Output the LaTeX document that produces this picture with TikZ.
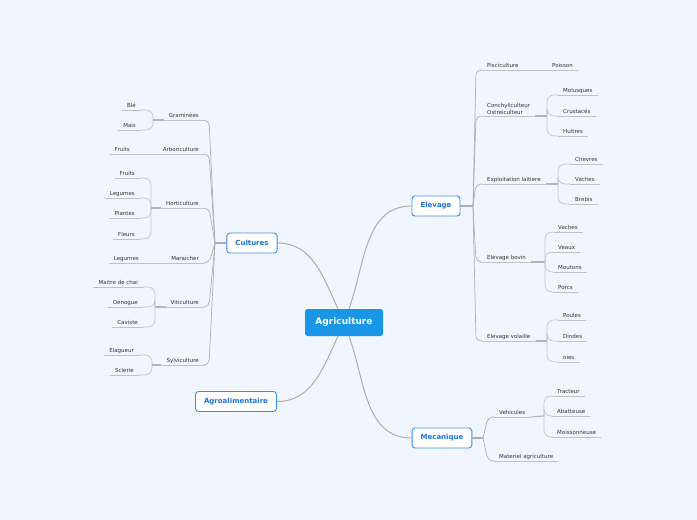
\documentclass[tikz,border=0pt]{standalone}
\usepackage{fontspec}
\setmainfont{DejaVu Sans}
\definecolor{bg}{HTML}{F1F5FD}
\definecolor{agriblue}{HTML}{1A96E6}
\definecolor{topicborder}{HTML}{3A8EEB}
\definecolor{topictext}{HTML}{1A73DA}
\definecolor{subtext}{HTML}{333333}
\definecolor{linegrey}{HTML}{C2C2C2}
\definecolor{maingrey}{HTML}{ADADAD}
\tikzset{
  central/.style={fill=agriblue, text=white, font=\bfseries\fontsize{9}{10}\selectfont, rounded corners=2.5pt, minimum width=78pt, minimum height=27pt, inner sep=0pt},
  topic/.style={draw=topicborder, line width=0.9pt, fill=white, text=topictext, font=\bfseries\fontsize{7}{8}\selectfont, rounded corners=3pt, minimum height=20pt, inner xsep=8.5pt, inner ysep=0pt},
  uline/.style={draw=linegrey, line width=0.6pt},
  sub/.style={font=\fontsize{5.5}{7}\selectfont, text=subtext, inner xsep=5pt, inner ysep=0.9pt, text height=4.2pt, text depth=1.3pt,
    append after command={(\tikzlastnode.south west) edge[uline] (\tikzlastnode.south east)}},
  L/.style={sub, anchor=south east},
  R/.style={sub, anchor=south west},
  mainline/.style={draw=maingrey, line width=1pt},
  stub/.style={draw=maingrey, line width=2pt},
  ext/.style={draw=maingrey!90, line width=1.1pt},
  fan/.style={draw=linegrey!90!black, line width=0.7pt, rounded corners=5pt},
  kid/.style={draw=linegrey, line width=0.6pt, rounded corners=7pt},
}
\begin{document}
\begin{tikzpicture}[x=1pt, y=-1pt]
\useasboundingbox[fill=bg] (0,0) rectangle (697,520);

% main nodes
\node[central] (agri) at (344,322.5) {Agriculture};
\node[topic] (cult) at (252,243) {Cultures};
\node[topic] (agro) at (236,401.5) {Agroalimentaire};
\node[topic] (elev) at (436,206) {Elevage};
\node[topic] (meca) at (442,438) {Mecanique};

\coordinate (aNW) at ([xshift=-6pt]agri.north);
\coordinate (aNE) at ([xshift=5pt]agri.north);
\coordinate (aSW) at ([xshift=-6pt]agri.south);
\coordinate (aSE) at ([xshift=5pt]agri.south);

\draw[mainline] (aNW) .. controls ([shift={(-15,-32)}]aNW) and ([shift={(35,0)}]cult.east) .. (cult.east);
\draw[mainline] (aSW) .. controls ([shift={(-15,32)}]aSW) and ([shift={(35,0)}]agro.east) .. (agro.east);
\draw[mainline] (aNE) .. controls ([shift={(16,-44)}]aNE) and ([shift={(-47,0)}]elev.west) .. (elev.west);
\draw[mainline] (aSE) .. controls ([shift={(16,44)}]aSE) and ([shift={(-47,0)}]meca.west) .. (meca.west);

% ---------- Cultures ----------
\coordinate (jC) at (215,243);
\draw[stub] (cult.west) -- (jC);
\node[L] (gram) at (204,120) {Graminées};
\node[L] (arbo) at (204,154) {Arboriculture};
\node[L] (horti) at (204,208) {Horticulture};
\node[L] (mara) at (204,263) {Maraicher};
\node[L] (viti) at (204,307) {Viticulture};
\node[L] (sylvi) at (204,365) {Sylviculture};
\foreach \n in {gram,arbo,horti,mara,viti,sylvi}
  \draw[fan] (jC) -- ([xshift=5pt]\n.south east) -- (\n.south east);

\node[L] (ble) at (141,110) {Blé};
\node[L] (mais) at (141,130) {Mais};
\coordinate (jGram) at (153,120);
\draw[ext] (gram.south west) -- (jGram);
\foreach \n in {ble,mais} \draw[kid] (jGram) |- (\n.south east);

\node[L] (fruA) at (135,154) {Fruits};
\draw[uline] (arbo.south west) -- (fruA.south east);

\node[L] (fruH) at (140,178) {Fruits};
\node[L] (legH) at (140,198) {Legumes};
\node[L] (plan) at (140,218) {Plantes};
\node[L] (fleu) at (140,239) {Fleurs};
\coordinate (jHort) at (151,208);
\draw[ext] (horti.south west) -- (jHort);
\foreach \n in {fruH,legH,plan,fleu} \draw[kid] (jHort) |- (\n.south east);

\node[L] (legM) at (144,263) {Legumes};
\draw[uline] (mara.south west) -- (legM.south east);

\node[L] (mait) at (143,287) {Maitre de chai};
\node[L] (oeno) at (143,307) {Oenogue};
\node[L] (cavi) at (143,327) {Caviste};
\coordinate (jViti) at (155,307);
\draw[ext] (viti.south west) -- (jViti);
\foreach \n in {mait,oeno,cavi} \draw[kid] (jViti) |- (\n.south east);

\node[L] (elag) at (139,355) {Elagueur};
\node[L] (scle) at (139,375) {Sclerie};
\coordinate (jSylv) at (152,365);
\draw[ext] (sylvi.south west) -- (jSylv);
\foreach \n in {elag,scle} \draw[kid] (jSylv) |- (\n.south east);

% ---------- Elevage ----------
\coordinate (jE) at (473,206);
\draw[stub] (elev.east) -- (jE);
\node[R] (pisc) at (482,70) {Pisciculture};
\node[R, text height={}, text depth={}, align=left, inner ysep=1.6pt] (conch) at (482,116) {Conchyliculteur\\Ostreiculteur};
\node[R] (expl) at (482,184) {Exploitation laitiere};
\node[R] (bovin) at (482,262) {Elevage bovin};
\node[R] (vola) at (482,341) {Elevage volaille};
\foreach \n in {pisc,conch,expl,bovin,vola}
  \draw[fan] (jE) -- ([xshift=-6pt]\n.south west) -- (\n.south west);

\node[R] (pois) at (547,70) {Poisson};
\draw[uline] (pisc.south east) -- (pois.south west);

\node[R] (mollu) at (558,95) {Molusques};
\node[R] (crus) at (558,116) {Crustacés};
\node[R] (huit) at (558,136) {Huitres};
\coordinate (jConch) at (547,116);
\draw[ext] (conch.south east) -- (jConch);
\foreach \n in {mollu,crus,huit} \draw[kid] (jConch) |- (\n.south west);

\node[R] (chev) at (570,164) {Chevres};
\node[R] (vacE) at (570,184) {Vaches};
\node[R] (breb) at (570,204) {Brebis};
\coordinate (jExpl) at (558,184);
\draw[ext] (expl.south east) -- (jExpl);
\foreach \n in {chev,vacE,breb} \draw[kid] (jExpl) |- (\n.south west);

\node[R] (vacB) at (553,232) {Vaches};
\node[R] (veau) at (553,252) {Veaux};
\node[R] (mout) at (553,272) {Moutons};
\node[R] (porc) at (553,292) {Porcs};
\coordinate (jBov) at (545,262);
\draw[ext] (bovin.south east) -- (jBov);
\foreach \n in {vacB,veau,mout,porc} \draw[kid] (jBov) |- (\n.south west);

\node[R] (poul) at (558,320) {Poules};
\node[R] (dind) at (558,341) {Dindes};
\node[R] (oies) at (558,362) {oies};
\coordinate (jVol) at (547,341);
\draw[ext] (vola.south east) -- (jVol);
\foreach \n in {poul,dind,oies} \draw[kid] (jVol) |- (\n.south west);

% ---------- Mecanique ----------
\coordinate (jM) at (483,438);
\draw[stub] (meca.east) -- (jM);
\node[R] (vehi) at (494,417) {Vehicules};
\node[R] (mate) at (494,461) {Materiel agriculture};
\foreach \n in {vehi,mate}
  \draw[fan] (jM) -- ([xshift=-6pt]\n.south west) -- (\n.south west);

\node[R] (trac) at (552,396) {Tracteur};
\node[R] (abat) at (552,416) {Abatteuse};
\node[R] (mois) at (552,437) {Moissonneuse};
\coordinate (jVeh) at (544,416);
\draw[ext] (vehi.south east) -- (jVeh);
\foreach \n in {trac,abat,mois} \draw[kid] (jVeh) |- (\n.south west);
\end{tikzpicture}
\end{document}
